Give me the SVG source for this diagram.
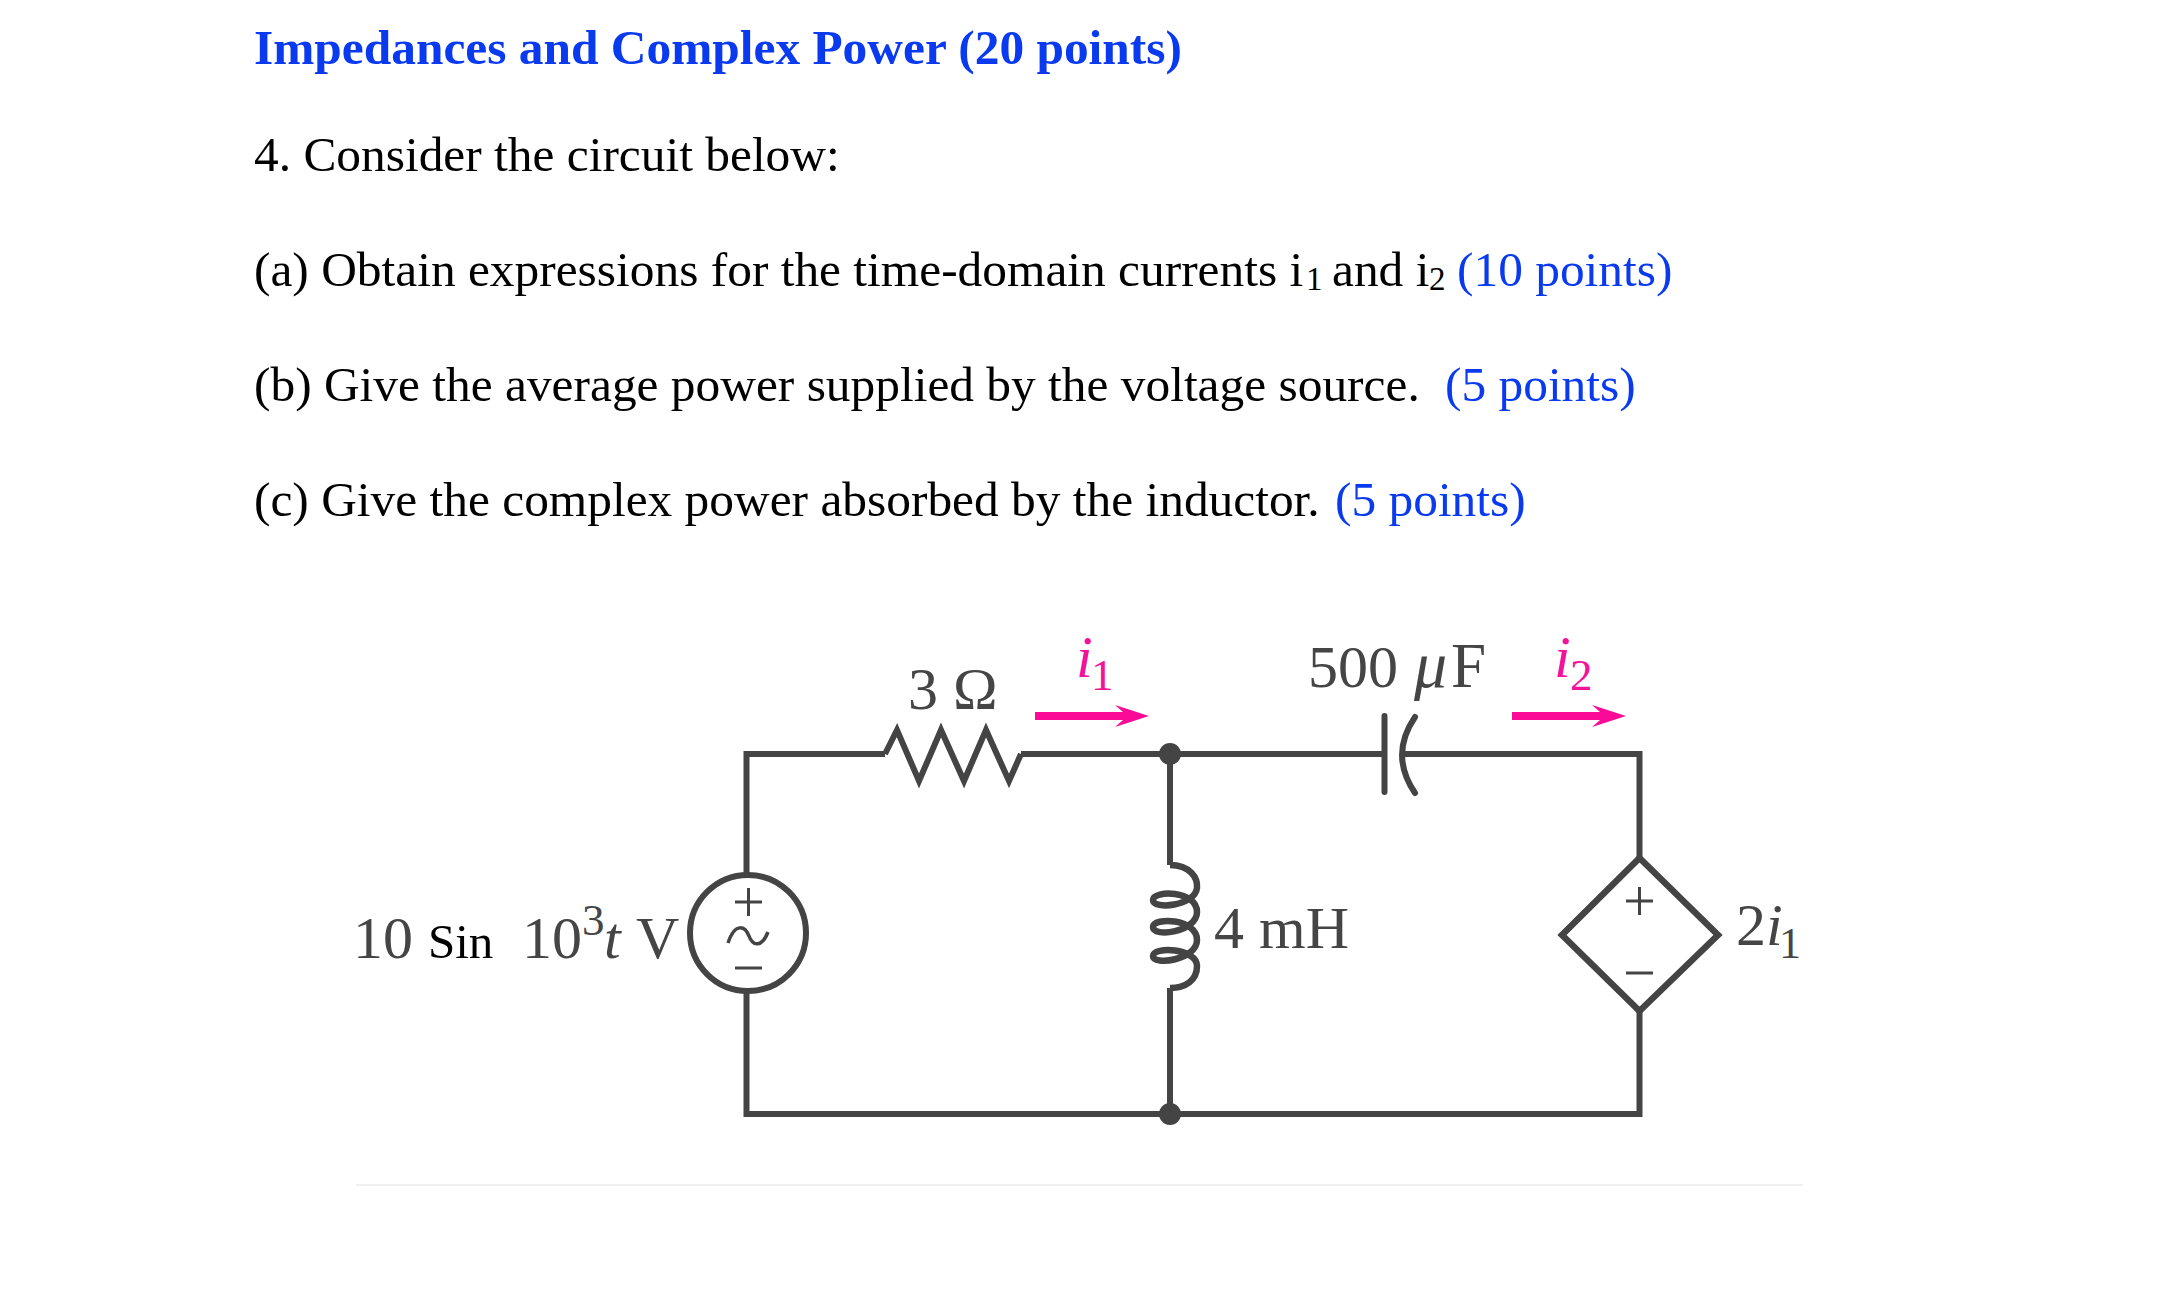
<svg xmlns="http://www.w3.org/2000/svg" width="2160" height="1291" viewBox="0 0 2160 1291">
<style>
text{font-family:"Liberation Serif","Times New Roman",serif}
.q{font-size:49.400px;fill:#000}
.b{fill:#0a3af0}
.s{font-size:33px}
.t{font-weight:bold;font-size:49.400px;fill:#0a3af0}
.l{font-size:60px;fill:#454545}
.sup{font-size:45px;fill:#454545}
.i{font-style:italic}
.p{fill:#f5129a;font-size:60px}
.ps{fill:#f5129a;font-size:45px}
.w{fill:none;stroke:#444;stroke-width:6;stroke-linejoin:miter}
.thin{fill:none;stroke:#444;stroke-width:3}
.arrow{fill:#fa0a96}
</style>
<rect width="2160" height="1291" fill="#fff"/>
<g id="text">
<text class="t" x="254" y="64">Impedances and Complex Power (20 points)</text>
<text class="q" x="254" y="171">4. Consider the circuit below:</text>
<text class="q" x="254" y="286">(a) Obtain expressions for the time-domain currents i</text>
<text class="q s" x="1306" y="290">1</text>
<text class="q" x="1332" y="286">and i</text>
<text class="q s" x="1429" y="290">2</text>
<text class="q b" x="1457" y="286">(10 points)</text>
<text class="q" x="254" y="401">(b) Give the average power supplied by the voltage source.</text>
<text class="q b" x="1445" y="401">(5 points)</text>
<text class="q" x="254" y="516">(c) Give the complex power absorbed by the inductor.</text>
<text class="q b" x="1335" y="516">(5 points)</text>
</g>
<g id="connectors">
<path class="w" d="M885 754H746.500V875M746.500 991V1114H1639.500V1011M1639.500 858V754H1403M1384 754H1021M1170 754V865M1170 988V1114"/>
</g>
<g id="resistor">
<path class="w" d="M885 754L897 730L919 781L941 730L964 781L986 730L1009 781L1021 754"/>
<text class="l" x="908" y="709">3 Ω</text>
</g>
<g id="source">
<circle class="w" cx="748" cy="933" r="58"/>
<path class="thin" d="M735 902H762M748.500 888V916M735 968H762"/>
<path class="thin" style="stroke-width:3.500" d="M728 943C735 922 745 926 749 936C753 947 762 947 768 932"/>
<text class="l" x="353" y="958">10</text>
<text x="428" y="958" font-size="49" fill="#000">Sin</text>
<text class="l" x="522" y="958">10</text>
<text class="sup" x="582" y="935">3</text>
<text class="l i" x="604" y="958">t</text>
<text class="l" x="636" y="958">V</text>
</g>
<g id="inductor">
<path class="w" style="stroke-width:6.500" d="M1170 865C1190 865 1198 878 1197 888C1195 906 1153 910 1153 900C1153 890 1197 890 1197 912C1197 932 1153 938 1153 927C1153 917 1197 918 1197 940C1197 960 1153 966 1153 956C1153 946 1197 948 1197 966C1197 980 1186 988 1170 988"/>
<text class="l" x="1214" y="948">4 mH</text>
</g>
<g id="capacitor">
<path class="w" stroke-linecap="round" d="M1384.500 716V792M1415 717C1398 742 1398 768 1415 793"/>
<text class="l" x="1308" y="687">500</text>
<text class="l i" x="1414" y="687" style="font-size:66px">μ</text>
<text class="l" x="1451" y="687" style="font-size:63px">F</text>
</g>
<g id="vcvs">
<path style="fill:none;stroke:#444;stroke-width:6.500" d="M1639.500 858L1718 935L1639.500 1011L1562 935Z"/>
<path class="thin" d="M1626 901H1653M1639.500 887V915M1626 973H1653"/>
<text class="l" x="1736" y="945">2</text>
<text class="l i" x="1766" y="945">i</text>
<text class="sup" x="1779" y="958" style="font-size:44px">1</text>
</g>
<g id="junctions">
<circle cx="1170" cy="754" r="11" fill="#444"/>
<circle cx="1170" cy="1114" r="11" fill="#444"/>
</g>
<g id="i1">
<path class="arrow" d="M1035 712H1123L1115 705L1149 716L1115 727L1123 720H1035Z"/>
<text class="p i" x="1076" y="677">i</text>
<text class="ps" x="1091" y="690">1</text>
</g>
<g id="i2">
<path class="arrow" d="M1512 712H1600L1592 705L1626 716L1592 727L1600 720H1512Z"/>
<text class="p i" x="1554" y="677">i</text>
<text class="ps" x="1570" y="690">2</text>
</g>
<g id="rule"><rect x="356" y="1184" width="1447" height="2" fill="#f0f0f0"/></g>
</svg>
